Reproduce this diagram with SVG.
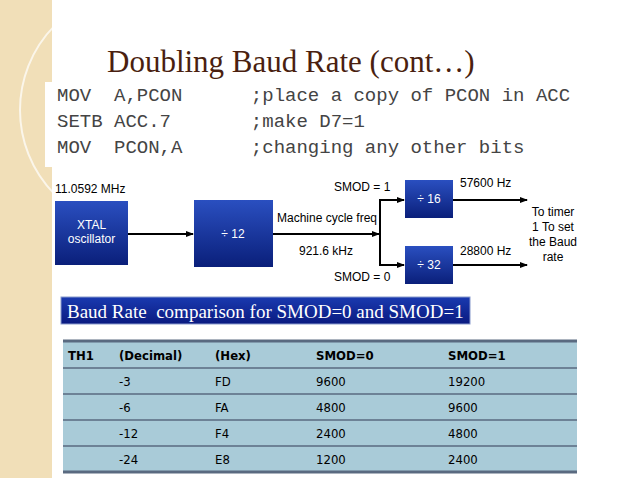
<svg xmlns="http://www.w3.org/2000/svg" width="638" height="478" viewBox="0 0 638 478">
<defs>
<marker id="ah" markerWidth="8" markerHeight="8" refX="7" refY="4" orient="auto" markerUnits="userSpaceOnUse"><path d="M0,1 L8,4 L0,7 z" fill="#000"/></marker>
<linearGradient id="bx" x1="0" y1="0" x2="0" y2="1"><stop offset="0" stop-color="#2a4fc0"/><stop offset="1" stop-color="#0a1f7a"/></linearGradient>
<linearGradient id="bn" x1="0" y1="0" x2="0" y2="1"><stop offset="0" stop-color="#1a3ab0"/><stop offset="1" stop-color="#0a1a80"/></linearGradient>
<style>
.d{font-family:"Liberation Sans",sans-serif;font-size:12px;fill:#000}
.w{font-family:"Liberation Sans",sans-serif;font-size:12px;fill:#fff}
.c{font-family:"Liberation Mono",monospace;font-size:19px;fill:#444}
.t{font-family:"DejaVu Sans Condensed","DejaVu Sans",sans-serif;font-size:13px;fill:#000}
.b{font-weight:bold}
.box{fill:url(#bx)}
.ln{stroke:#000;stroke-width:2;fill:none}
</style>
</defs>
<rect width="638" height="478" fill="#fff"/>
<rect width="52" height="478" fill="#f1dfb8"/>
<circle cx="140" cy="110" r="120" fill="none" stroke="#fff" stroke-width="2" opacity="0.7"/>
<rect x="45" y="82" width="560" height="85" fill="#fff"/>
<text x="107" y="72" font-family="Liberation Serif,serif" font-size="31" fill="#4a1f10">Doubling Baud Rate (cont…)</text>
<text class="c" x="57" y="101" xml:space="preserve">MOV  A,PCON      ;place a copy of PCON in ACC</text>
<text class="c" x="57" y="127" xml:space="preserve">SETB ACC.7       ;make D7=1</text>
<text class="c" x="57" y="153" xml:space="preserve">MOV  PCON,A      ;changing any other bits</text>
<g id="xtal"><rect class="box" x="55" y="201" width="73" height="64"/><text class="w" x="91.5" y="229" text-anchor="middle">XTAL</text><text class="w" x="91.5" y="243" text-anchor="middle">oscillator</text></g>
<g id="div12"><rect class="box" x="194" y="200" width="79" height="67"/><text class="w" x="233" y="238" text-anchor="middle">÷ 12</text></g>
<g id="div16"><rect class="box" x="405" y="180" width="48" height="38"/><text class="w" x="429" y="203" text-anchor="middle">÷ 16</text></g>
<g id="div32"><rect class="box" x="405" y="246" width="48" height="38"/><text class="w" x="429" y="269" text-anchor="middle">÷ 32</text></g>
<g id="connectors">
<line class="ln" x1="128" y1="234" x2="193" y2="234" marker-end="url(#ah)"/>
<line class="ln" x1="273" y1="234" x2="379" y2="234" marker-end="url(#ah)"/>
<path class="ln" d="M380,199 V266"/>
<line class="ln" x1="380" y1="200" x2="404" y2="200" marker-end="url(#ah)"/>
<line class="ln" x1="380" y1="265" x2="404" y2="265" marker-end="url(#ah)"/>
<line class="ln" x1="453" y1="200" x2="527" y2="200" marker-end="url(#ah)"/>
<line class="ln" x1="453" y1="265" x2="527" y2="265" marker-end="url(#ah)"/>
</g>
<text class="d" x="55" y="193">11.0592 MHz</text>
<text class="d" x="334" y="191">SMOD = 1</text>
<text class="d" x="460" y="187">57600 Hz</text>
<text class="d" x="277" y="222">Machine cycle freq</text>
<text class="d" x="299" y="255">921.6 kHz</text>
<text class="d" x="460" y="255">28800 Hz</text>
<text class="d" x="334" y="281">SMOD = 0</text>
<text class="d" text-anchor="middle"><tspan x="553" y="216">To timer</tspan><tspan x="553" y="231">1 To set</tspan><tspan x="553" y="246">the Baud</tspan><tspan x="553" y="261">rate</tspan></text>
<rect x="61" y="297" width="409" height="27" fill="url(#bn)" stroke="#8899cc"/>
<text x="67" y="318" font-family="Liberation Serif,serif" font-size="19" fill="#fff" xml:space="preserve">Baud Rate  comparison for SMOD=0 and SMOD=1</text>
<g id="table">
<rect x="63" y="341" width="514" height="131" fill="#a9cbd8"/>
<g stroke="#5a6a80">
<line x1="63" y1="341" x2="577" y2="341" stroke-width="3"/>
<line x1="63" y1="368" x2="577" y2="368" stroke-width="1.5"/>
<line x1="63" y1="394" x2="577" y2="394" stroke-width="1.5"/>
<line x1="63" y1="420" x2="577" y2="420" stroke-width="1.5"/>
<line x1="63" y1="446" x2="577" y2="446" stroke-width="1.5"/>
<line x1="63" y1="472" x2="577" y2="472" stroke-width="3"/>
</g>
<text class="t b" x="68" y="360">TH1</text><text class="t b" x="119" y="360">(Decimal)</text><text class="t b" x="215" y="360">(Hex)</text><text class="t b" x="316" y="360">SMOD=0</text><text class="t b" x="448" y="360">SMOD=1</text>
<text class="t" x="119" y="386">-3</text><text class="t" x="215" y="386">FD</text><text class="t" x="316" y="386">9600</text><text class="t" x="448" y="386">19200</text>
<text class="t" x="119" y="412">-6</text><text class="t" x="215" y="412">FA</text><text class="t" x="316" y="412">4800</text><text class="t" x="448" y="412">9600</text>
<text class="t" x="119" y="438">-12</text><text class="t" x="215" y="438">F4</text><text class="t" x="316" y="438">2400</text><text class="t" x="448" y="438">4800</text>
<text class="t" x="119" y="464">-24</text><text class="t" x="215" y="464">E8</text><text class="t" x="316" y="464">1200</text><text class="t" x="448" y="464">2400</text>
</g>
</svg>
